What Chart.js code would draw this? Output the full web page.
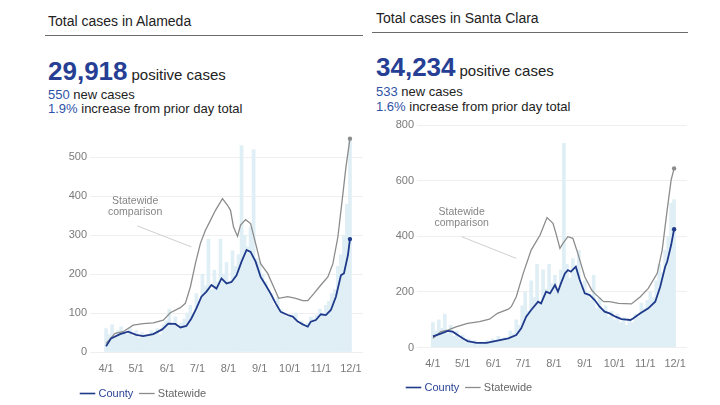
<!DOCTYPE html>
<html lang="en">
<head>
  <meta charset="UTF-8" />
  <title>Total cases - Alameda and Santa Clara</title>
  <script src="https://cdn.jsdelivr.net/npm/chart.js"></script>
  <style>
    body { margin: 0; width: 720px; height: 405px; overflow: hidden; background: #fff;
           font-family: "Liberation Sans", Arial, sans-serif; color: #222; position: relative; }
    .abs { position: absolute; white-space: nowrap; line-height: 1; }
    .title { font-size: 14px; color: #222; }
    .rule { position: absolute; height: 1px; background: #6b6b6b; }
    .big { font-size: 26px; font-weight: bold; color: #263f95; }
    .pos { font-size: 15px; color: #222; margin-left: 4px; }
    .small { font-size: 13px; color: #222; }
    .num { color: #2f52a6; }
    canvas { position: absolute; }
  </style>
</head>
<body>
  <div class="abs title" style="left:48px; top:14px;">Total cases in Alameda</div>
  <div class="rule" style="left:45px; top:35px; width:318px;"></div>
  <div class="abs" style="left:48px; top:58px;"><span class="big">29,918</span><span class="pos">positive cases</span></div>
  <div class="abs small" style="left:48px; top:88px;"><span class="num">550</span> new cases</div>
  <div class="abs small" style="left:48px; top:102px;"><span class="num">1.9%</span> increase from prior day total</div>

  <div class="abs title" style="left:376px; top:11px;">Total cases in Santa Clara</div>
  <div class="rule" style="left:372px; top:32px; width:316px;"></div>
  <div class="abs" style="left:376px; top:54px;"><span class="big">34,234</span><span class="pos">positive cases</span></div>
  <div class="abs small" style="left:376px; top:85px;"><span class="num">533</span> new cases</div>
  <div class="abs small" style="left:376px; top:100px;"><span class="num">1.6%</span> increase from prior day total</div>

  <canvas id="chartAlameda" style="left:0; top:120px;" width="370" height="289"></canvas>
  <canvas id="chartSantaClara" style="left:370px; top:110px;" width="350" height="293"></canvas>

<script>
  // days counted from 4/1
  const xTickDays = [0, 30, 61, 91, 122, 153, 183, 214, 244];
  const xTickLabels = ['4/1', '5/1', '6/1', '7/1', '8/1', '9/1', '10/1', '11/1', '12/1'];
  const barStep = 3;

  // Alameda
  const alamedaCountyDays = [0,5,14,22,30,37,47,56,62,69,74,80,85,90,95,100,105,110,115,120,125,130,135,140,144,149,154,159,164,169,174,181,186,191,196,201,204,209,214,219,224,229,234,237,241,243];
  const alamedaCountyVals = [15,35,46,52,44,41,46,58,73,72,63,67,86,112,142,155,172,163,189,176,180,197,232,262,257,232,193,172,150,125,103,95,91,78,71,65,78,82,97,95,108,142,197,202,249,290];
  const alamedaStateDays = [0,9,17,27,37,47,57,64,74,79,84,89,94,99,104,109,116,121,124,127,131,134,139,144,149,154,161,167,172,181,189,196,201,207,214,221,226,231,236,239,243];
  const alamedaStateVals = [22,48,52,69,73,75,82,101,114,125,167,227,279,313,338,364,394,377,364,321,297,326,340,330,279,227,202,167,138,142,138,132,132,150,172,193,227,296,407,475,548];
  const alamedaBars = [60,45,70,40,55,65,50,45,60,40,55,
    35,50,45,40,55,50,60,45,70,
    80,110,70,90,60,75,85,100,120,95,
    150,130,200,170,290,160,210,180,290,200,230,180,260,220,
    250,530,300,270,320,520,240,
    230,200,180,160,150,120,140,110,100,90,95,
    85,100,70,80,65,75,90,85,95,110,
    100,120,130,150,160,220,250,300,380,550];
  const alamedaYTicks = [0, 100, 200, 300, 400, 500];

  // Santa Clara
  const santaClaraCountyDays = [0,8,15,20,25,30,35,44,54,65,76,84,89,94,99,106,109,114,118,123,126,129,133,136,139,144,148,153,158,163,168,173,178,184,190,199,202,209,217,224,229,234,236,240,243];
  const santaClaraCountyVals = [40,50,60,57,45,33,23,17,17,25,33,45,69,111,135,165,159,201,195,225,201,231,267,279,273,291,243,195,189,171,147,129,123,111,102,99,105,123,141,165,219,291,309,369,426];
  const santaClaraStateDays = [0,8,15,24,35,47,57,65,76,79,84,91,99,108,115,121,124,128,131,136,141,146,153,160,163,172,178,187,200,209,217,226,231,236,240,243];
  const santaClaraStateVals = [33,57,63,75,87,93,102,123,138,147,183,267,351,405,468,447,411,357,375,399,393,339,255,207,195,165,165,159,157,183,213,267,351,495,603,645];
  const santaClaraBars = [90,60,100,70,120,50,80,40,60,30,45,
    20,30,15,25,10,20,15,25,20,
    30,25,40,30,35,30,60,50,100,80,
    150,200,130,240,180,300,160,280,210,300,230,260,200,280,
    735,300,250,320,280,350,220,
    240,200,170,260,140,180,130,150,110,130,100,
    120,90,110,80,100,90,120,110,160,140,
    170,200,180,240,300,270,350,400,520,533];
  const santaClaraYTicks = [0, 200, 400, 600, 800];

  const countyColor = '#1f3a8a';
  const stateColor = '#8c8c8c';
  const barColor = '#dfeff5';
  const fontFamily = '"Liberation Sans", Arial, sans-serif';

  const toPoints = (days, vals) => days.map((d, i) => ({ x: d, y: vals[i] }));
  const lastDot = ctx => ctx.dataIndex === ctx.dataset.data.length - 1 ? 2.2 : 0;

  // "Statewide comparison" note with leader line, placed in data units
  const notePlugin = {
    id: 'note',
    afterDatasetsDraw(chart, args, opts) {
      const { ctx, scales: { x, y } } = chart;
      ctx.save();
      ctx.strokeStyle = '#cfcfcf';
      ctx.lineWidth = 1;
      ctx.beginPath();
      ctx.moveTo(x.getPixelForValue(opts.line[0]), y.getPixelForValue(opts.line[1]));
      ctx.lineTo(x.getPixelForValue(opts.line[2]), y.getPixelForValue(opts.line[3]));
      ctx.stroke();
      ctx.fillStyle = '#858585';
      ctx.font = '10.5px ' + fontFamily;
      ctx.textAlign = 'center';
      ctx.textBaseline = 'middle';
      const tx = x.getPixelForValue(opts.at[0]);
      const ty = y.getPixelForValue(opts.at[1]);
      opts.text.forEach((t, i) => ctx.fillText(t, tx, ty + (i - (opts.text.length - 1) / 2) * opts.gap));
      ctx.restore();
    }
  };

  // move the legend row sideways so it sits under the plot, not at the canvas edge
  const legendShiftPlugin = {
    id: 'legendShift',
    afterLayout(chart, args, opts) {
      if (chart.legend) {
        chart.legend.left += opts.dx;
        chart.legend.right += opts.dx;
      }
    }
  };

  function makeChart(id, cfg) {
    return new Chart(document.getElementById(id), {
      type: 'bar',
      data: {
        datasets: [
          {
            type: 'line', label: 'County', data: toPoints(cfg.countyDays, cfg.countyVals),
            borderColor: countyColor, backgroundColor: countyColor, borderWidth: 1.8,
            pointRadius: lastDot, pointBorderWidth: 0, pointHoverRadius: 0, tension: 0, order: 1
          },
          {
            type: 'line', label: 'Statewide', data: toPoints(cfg.stateDays, cfg.stateVals),
            borderColor: stateColor, backgroundColor: stateColor, borderWidth: 1.3,
            pointRadius: lastDot, pointBorderWidth: 0, pointHoverRadius: 0, tension: 0, order: 2
          },
          {
            type: 'bar', label: 'New cases', data: cfg.bars.map((v, i) => ({ x: i * barStep, y: v })),
            backgroundColor: barColor, barThickness: 3, order: 3
          }
        ]
      },
      options: {
        responsive: false,
        animation: false,
        layout: { padding: cfg.padding },
        scales: {
          x: {
            type: 'linear', min: -16, max: 256, offset: false,
            grid: { display: false }, border: { display: false },
            afterBuildTicks: s => { s.ticks = xTickDays.map(v => ({ value: v })); },
            afterFit: s => { s.height = cfg.xHeight; },
            ticks: {
              padding: 2, color: '#7a7a7a', font: { size: 11, family: fontFamily },
              maxRotation: 0, autoSkip: false,
              callback: v => xTickLabels[xTickDays.indexOf(v)]
            }
          },
          y: {
            min: 0, max: cfg.yMax,
            grid: { color: '#efefef', drawTicks: false }, border: { display: false },
            afterBuildTicks: s => { s.ticks = cfg.yTicks.map(v => ({ value: v })); },
            afterFit: s => { s.width = cfg.yWidth; },
            ticks: { padding: 3, color: '#7a7a7a', font: { size: 11, family: fontFamily } }
          }
        },
        plugins: {
          tooltip: { enabled: false },
          legend: {
            position: 'bottom', align: 'start',
            labels: {
              usePointStyle: true, pointStyle: 'line', boxWidth: 12, padding: 8,
              font: { size: 11, family: fontFamily },
              filter: item => item.datasetIndex !== 2,
              generateLabels: chart => Chart.defaults.plugins.legend.labels.generateLabels(chart)
                .map(item => {
                  const county = item.datasetIndex === 0;
                  return Object.assign(item, {
                    fontColor: county ? '#2b4596' : '#666',
                    strokeStyle: county ? countyColor : stateColor,
                    lineWidth: county ? 1.6 : 1.3
                  });
                })
            }
          },
          note: cfg.note,
          legendShift: { dx: cfg.legendDx }
        }
      },
      plugins: [notePlugin, legendShiftPlugin]
    });
  }

  makeChart('chartAlameda', {
    countyDays: alamedaCountyDays, countyVals: alamedaCountyVals,
    stateDays: alamedaStateDays, stateVals: alamedaStateVals,
    bars: alamedaBars, yTicks: alamedaYTicks, yMax: 560,
    padding: { left: 40, right: 7, top: 14, bottom: 0 },
    yWidth: 50, xHeight: 28, legendDx: 34,
    note: { text: ['Statewide', 'comparison'], at: [29, 374], gap: 11, line: [31, 324, 85, 270] }
  });

  makeChart('chartSantaClara', {
    countyDays: santaClaraCountyDays, countyVals: santaClaraCountyVals,
    stateDays: santaClaraStateDays, stateVals: santaClaraStateVals,
    bars: santaClaraBars, yTicks: santaClaraYTicks, yMax: 805,
    padding: { left: 10, right: 33, top: 14, bottom: 0 },
    yWidth: 37, xHeight: 26.5, legendDx: 20,
    note: { text: ['Statewide', 'comparison'], at: [29, 468], gap: 11.5, line: [29, 399, 84, 321] }
  });
</script>
</body>
</html>
